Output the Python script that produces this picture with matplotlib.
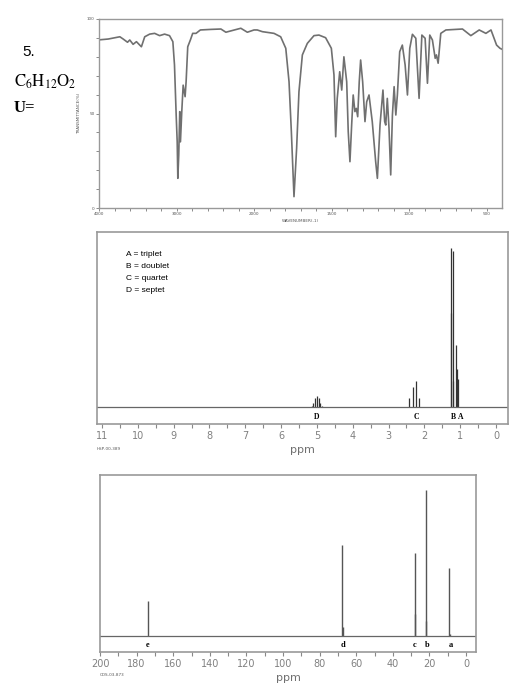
import numpy as np
import matplotlib.pyplot as plt
from matplotlib.ticker import MultipleLocator, FixedLocator

# IR spectrum (wavenumber cm-1, transmittance %)
ir_wavenumber = [4000, 3990, 3881, 3731, 3688, 3632, 3603, 3560, 3517, 3453, 3410, 3346, 3282, 3218,
                 3154, 3090, 3047, 3026, 3004, 2991, 2983, 2971, 2958, 2949, 2932, 2914, 2889, 2876,
                 2855, 2821, 2791, 2748, 2692, 2555, 2427, 2363, 2299, 2170, 2086, 2000, 1979, 1946,
                 1871, 1828, 1795, 1774, 1759, 1742, 1725, 1710, 1688, 1656, 1613, 1581, 1538, 1501,
                 1484, 1473, 1463, 1447, 1434, 1420, 1402, 1392, 1381, 1370, 1360, 1349, 1340, 1331,
                 1321, 1312, 1299, 1284, 1273, 1258, 1237, 1215, 1204, 1187, 1168, 1157, 1150, 1140,
                 1129, 1118, 1107, 1096, 1085, 1075, 1060, 1043, 1025, 1010, 995, 978, 956, 935,
                 917, 896, 881, 866, 849, 831, 823, 812, 795, 762, 655, 601, 547, 504, 471, 435, 413, 400]
ir_transmittance = [89, 89, 89.4, 90.6, 89.4, 87.7, 88.9, 86.6, 88, 85.3, 90.6, 92, 92.4, 91.2,
                    92, 91.2, 88, 75.7, 49, 35, 15.7, 28, 51, 35, 51, 65, 58.9, 66.8,
                    85.3, 88.9, 92.4, 92.4, 94.2, 94.5, 94.7, 93, 93.7, 95.1, 93, 94.2, 94.2, 93.3,
                    92.4, 90.6, 84.5, 66.8, 40.4, 6, 31.6, 61.5, 81, 87.1, 91.2, 91.5, 90.1, 84.5,
                    70.4, 37.7, 58, 72.1, 62.4, 80, 66.8, 40.4, 24.5, 43.9, 59.8, 51, 52.7, 48.3,
                    66.8, 78.3, 66.8, 45.7, 56.2, 59.8, 45.7, 24.5, 15.7, 43.9, 62.4, 45.7, 43.9, 58,
                    42.2, 17.5, 49.2, 64.2, 49.2, 59.8, 82.7, 86.2, 75.7, 59.8, 84.5, 91.9, 89.8, 58,
                    91.5, 89.8, 66, 91.5, 88.9, 79.2, 81, 76.6, 92.4, 94.2, 94.7, 91.2, 94.2, 92.4, 94.2, 86.2, 84.5, 84]
ir_ticks = [4000, 3000, 2000, 1500, 1000, 500]

# 1H NMR lines (ppm, height)
h_ppm = [5.15, 5.10, 5.05, 5.00, 4.95, 4.90, 4.85,
         2.43, 2.32, 2.23, 2.15,
         1.256, 1.245, 1.21, 1.19, 1.125, 1.10, 1.07]
h_height = [1, 4, 9, 11, 9, 4, 1,
            9, 20, 26, 9,
            159, 94, 26, 156, 62, 38, 28]
h_labels = ['D', 'C', 'B', 'A']
h_label_ppm = [5.0, 2.23, 1.2, 1.0]
h_legend = ['A = triplet', 'B = doublet', 'C = quartet', 'D = septet']

# 13C NMR lines (ppm, height)
c_ppm = [173.9, 67.6, 67.3, 27.9, 28.1, 21.9, 22.1, 9.1, 9.0]
c_height = [35, 91, 9, 83, 22, 146, 15, 68, 2]
c_labels = ['e', 'd', 'c', 'b', 'a']
c_label_ppm = [173.8, 67.2, 27.9, 21.3, 8.2]

frame = '#999999'
W, H = 527, 687

def rect(x0, y0, x1, y1):
    return [x0 / W, 1 - y1 / H, (x1 - x0) / W, (y1 - y0) / H]

fig = plt.figure(figsize=(5.27, 6.87), dpi=100)

# left side texts
plt.rcParams['mathtext.fontset'] = 'stix'
fig.text(22 / W, 1 - 52 / H, '5.', fontsize=11, family='Liberation Sans', va='center')
fig.text(14 / W, 1 - 82 / H, r'$\mathrm{C_6H_{12}O_2}$', fontsize=12, va='center')
fig.text(14 / W, 1 - 108 / H, 'U=', fontsize=12, family='Liberation Serif', weight='bold', va='center')

# ---- IR ----
def fwd(w):
    w = np.asarray(w, float)
    return np.where(w > 2000, 2000 + (w - 2000) / 2, w)

def inv(u):
    u = np.asarray(u, float)
    return np.where(u > 2000, 2000 + (u - 2000) * 2, u)

ax1 = fig.add_axes(rect(99, 19, 502, 208))
ax1.set_xscale('function', functions=(fwd, inv))
ax1.plot(ir_wavenumber, ir_transmittance, color='#707070', lw=1.2)
ax1.set_xlim(4000, 400)
ax1.set_ylim(0, 100)
ax1.xaxis.set_major_locator(FixedLocator(ir_ticks))
ax1.xaxis.set_minor_locator(FixedLocator(list(range(3800, 2000, -200)) + list(range(1900, 400, -100))))
ax1.set_xticklabels([str(t) for t in ir_ticks])
ax1.set_yticks([0, 50, 100])
ax1.yaxis.set_minor_locator(MultipleLocator(10))
ax1.tick_params(which='both', direction='out', length=2, width=0.6, color='#777777',
                labelsize=3, labelcolor='#555555', pad=1)
for s in ax1.spines.values():
    s.set_color(frame)
    s.set_linewidth(1.0)
ax1.set_xlabel('WAVENUMBER(-1)', fontsize=3, color='#555555', labelpad=2)
ax1.set_ylabel('TRANSMITTANCE(%)', fontsize=3, color='#555555', labelpad=4)

# ---- 1H NMR ----
ax2 = fig.add_axes(rect(97, 232, 508, 424))
ax2.vlines(h_ppm, 0, h_height, color='#333333', lw=0.9)
ax2.axhline(0, color='#666666', lw=0.9)
ax2.set_xlim(11.14, -0.335)
ax2.set_ylim(-17, 175)
ax2.set_xticks(range(0, 12))
ax2.xaxis.set_minor_locator(MultipleLocator(0.5))
ax2.set_yticks([])
ax2.tick_params(which='both', direction='out', length=3, width=0.8, color='#888888',
                labelsize=7, labelcolor='#808080', pad=2)
for s in ax2.spines.values():
    s.set_color(frame)
    s.set_linewidth(1.2)
for lab, p in zip(h_labels, h_label_ppm):
    ax2.text(p, -10, lab, fontsize=5.5, family='Liberation Serif', weight='bold',
             ha='center', va='center')
for i, t in enumerate(h_legend):
    ax2.text(10.33, 153 - 12 * i, t, fontsize=6, family='Liberation Sans', va='center')
ax2.set_xlabel('ppm', fontsize=8, color='#707070', labelpad=3)
fig.text(97 / W, 1 - 449 / H, 'HSP-00-389', fontsize=3, color='#555555', va='center')

# ---- 13C NMR ----
ax3 = fig.add_axes(rect(100, 475, 476, 652))
ax3.vlines(c_ppm, 0, c_height, color='#555555', lw=1.0)
ax3.axhline(0, color='#666666', lw=0.9)
ax3.set_xlim(200, -5.46)
ax3.set_ylim(-16, 161)
ax3.set_xticks(range(0, 201, 20))
ax3.xaxis.set_minor_locator(MultipleLocator(10))
ax3.set_yticks([])
ax3.tick_params(which='both', direction='out', length=3, width=0.8, color='#888888',
                labelsize=7, labelcolor='#808080', pad=2)
for s in ax3.spines.values():
    s.set_color(frame)
    s.set_linewidth(1.2)
for lab, p in zip(c_labels, c_label_ppm):
    ax3.text(p, -9, lab, fontsize=6, family='Liberation Serif', weight='bold',
             ha='center', va='center')
ax3.set_xlabel('ppm', fontsize=8, color='#707070', labelpad=3)
fig.text(100 / W, 1 - 675 / H, 'CDS-03-873', fontsize=3, color='#555555', va='center')

fig.savefig('out.png', dpi=100)
